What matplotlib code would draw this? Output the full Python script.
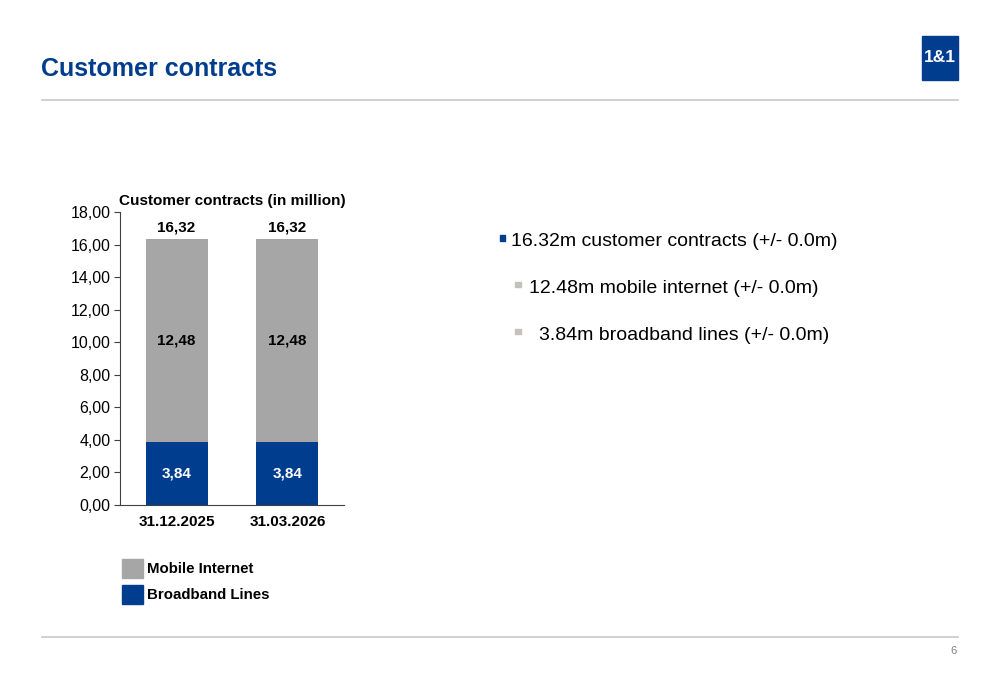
import matplotlib.pyplot as plt
from matplotlib.patches import Rectangle
from matplotlib.lines import Line2D

plt.rcParams['font.family'] = ['Liberation Sans Narrow', 'Liberation Sans', 'DejaVu Sans']

# --- data ---
dates = ['31.12.2025', '31.03.2026']
broadband = [3.84, 3.84]
mobile = [12.48, 12.48]
totals = [16.32, 16.32]
bullets = ['16.32m customer contracts (+/- 0.0m)',
           '12.48m mobile internet (+/- 0.0m)',
           '3.84m broadband lines (+/- 0.0m)']

BLUE = '#003D8F'
GRAY = '#A6A6A6'

def de(v):
    return f'{v:.2f}'.replace('.', ',')

fig = plt.figure(figsize=(10, 6.85), dpi=100)

# --- slide frame ---
fig.text(0.041, 1 - 69 / 685, 'Customer contracts', fontsize=18, fontweight='bold',
         color=BLUE, va='center', ha='left')
fig.add_artist(Line2D([0.042, 0.958], [1 - 100 / 685] * 2, color='#C8C8C8', lw=1.2))
fig.add_artist(Line2D([0.042, 0.958], [1 - 637 / 685] * 2, color='#C8C8C8', lw=1.2))
fig.text(0.957, 1 - 651 / 685, '6', fontsize=8, color='#808080', ha='right', va='center')

# logo
fig.add_artist(Rectangle((0.922, 1 - 80 / 685), 0.036, 44 / 685, color=BLUE))
fig.text(0.940, 1 - 58 / 685, '1&1', fontsize=12.5, fontweight='bold', color='white',
         ha='center', va='center')

# --- chart ---
ax = fig.add_axes([0.120, 1 - 505 / 685, 0.224, 293 / 685])
x = range(len(dates))
ax.bar(x, broadband, width=0.56, color=BLUE, label='Broadband Lines')
ax.bar(x, mobile, width=0.56, bottom=broadband, color=GRAY, label='Mobile Internet')

for i in x:
    ax.text(i, broadband[i] / 2, de(broadband[i]), color='white', fontsize=11,
            fontweight='bold', ha='center', va='center')
    ax.text(i, broadband[i] + mobile[i] / 2, de(mobile[i]), color='black', fontsize=11,
            fontweight='bold', ha='center', va='center')
    ax.text(i, totals[i] + 0.3, de(totals[i]), color='black', fontsize=11,
            fontweight='bold', ha='center', va='bottom')

ax.set_xlim(-0.51, 1.51)
ax.set_ylim(0, 18)
ax.set_yticks(range(0, 19, 2))
ax.set_yticklabels([de(v) for v in range(0, 19, 2)], fontsize=11.5)
ax.set_xticks(list(x))
ax.set_xticklabels(dates, fontsize=11, fontweight='bold')
ax.tick_params(axis='x', length=0, pad=7)
ax.tick_params(axis='y', length=4, width=0.8, color='#404040', pad=3)
for s in ['top', 'right']:
    ax.spines[s].set_visible(False)
for s in ['left', 'bottom']:
    ax.spines[s].set_color('#404040')
    ax.spines[s].set_linewidth(0.8)
ax.set_title('Customer contracts (in million)', fontsize=11, fontweight='bold', pad=5, x=0.5)

# legend
fig.add_artist(Rectangle((0.122, 1 - 578 / 685), 0.021, 19 / 685, color=GRAY))
fig.add_artist(Rectangle((0.122, 1 - 604 / 685), 0.021, 19 / 685, color=BLUE))
fig.text(0.147, 1 - 569 / 685, 'Mobile Internet', fontsize=10.8, fontweight='bold', va='center')
fig.text(0.147, 1 - 595 / 685, 'Broadband Lines', fontsize=10.8, fontweight='bold', va='center')

# --- bullet text ---
ys = [240, 286.5, 333.5]
bx = [0.500, 0.515, 0.515]
tx = [0.511, 0.529, 0.539]
bc = [BLUE, '#C4C0BC', '#C4C0BC']
for txt, y, b, t, c in zip(bullets, ys, bx, tx, bc):
    fig.add_artist(Rectangle((b, 1 - (y + 0.5) / 685), 0.0055, 5.5 / 685, color=c))
    fig.text(t, 1 - (y + 2) / 685, txt, fontsize=14, va='center', ha='left', color='black')

fig.savefig('out.png', dpi=100)
